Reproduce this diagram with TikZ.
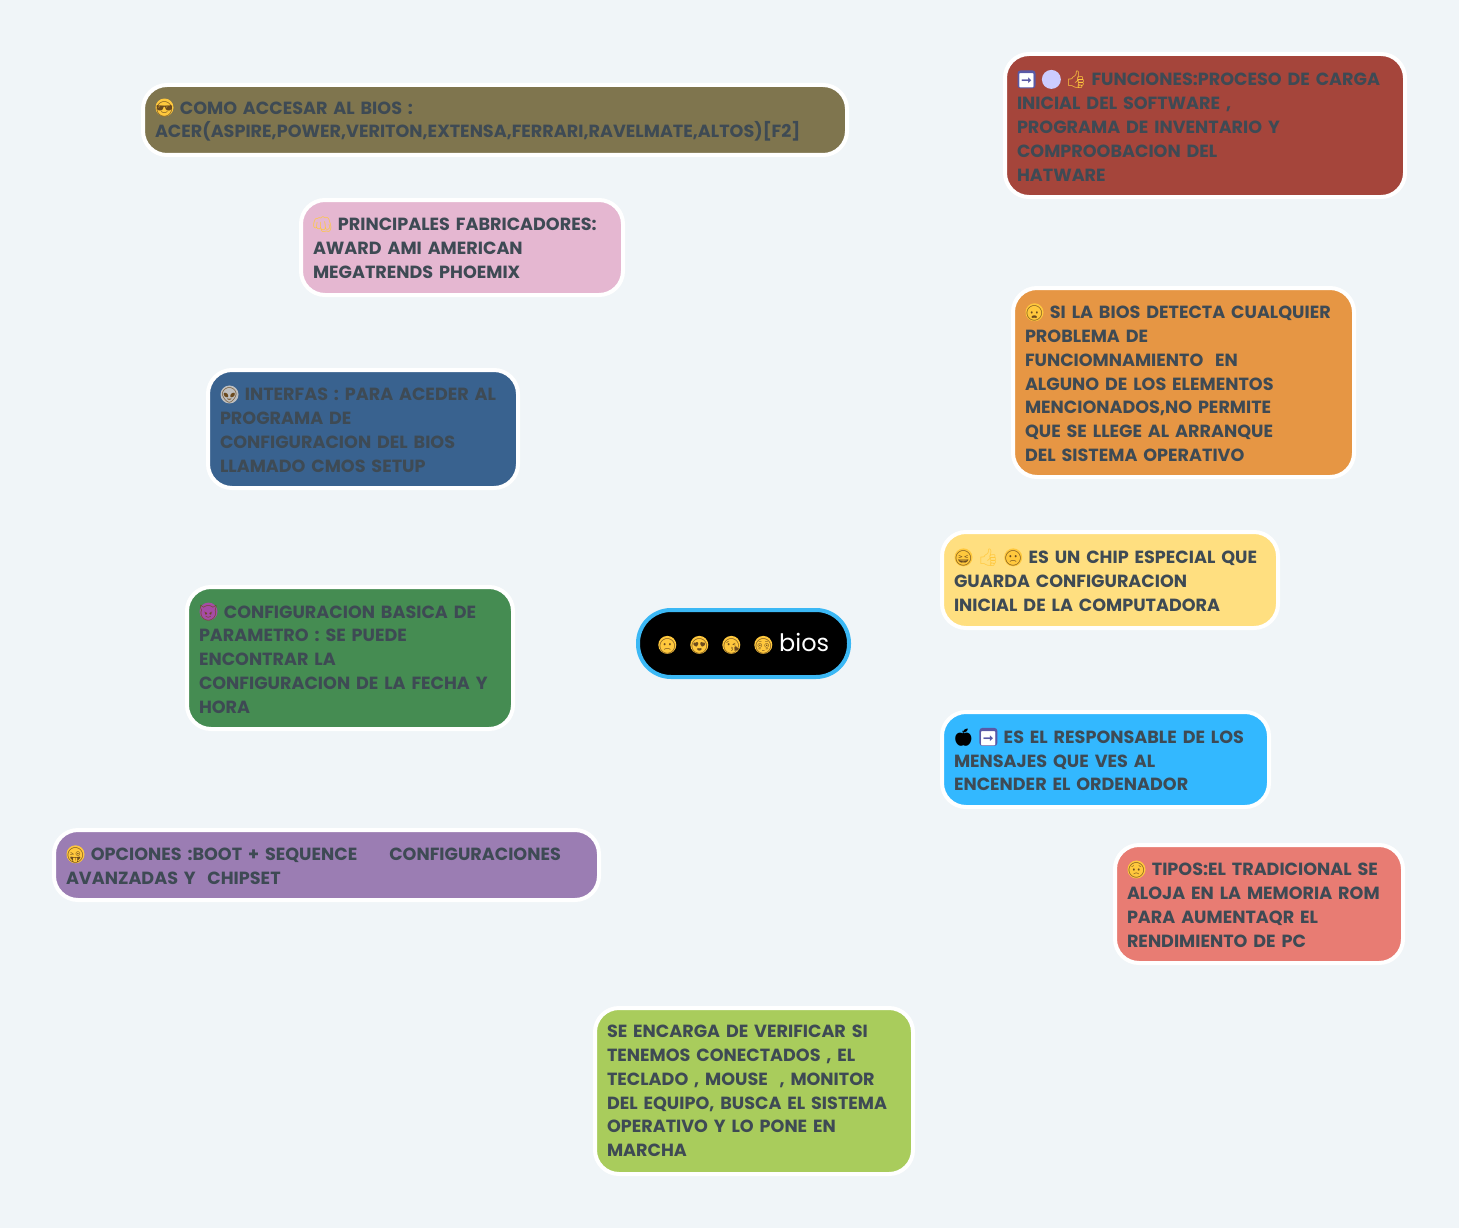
\documentclass[tikz,border=0pt]{standalone}
\usepackage{fontspec}
\usepackage{xcolor}
\setmainfont{Poppins}
\newfontfamily\emofont{Noto Emoji}
\usetikzlibrary{backgrounds}
\definecolor{pagebg}{HTML}{F0F5F8}
\definecolor{inktext}{HTML}{3E4A54}
\definecolor{branchline}{HTML}{D0D7DB}
\definecolor{faceamber}{HTML}{FFC83D}
\definecolor{faceline}{HTML}{6B4A1E}
\definecolor{rootrim}{HTML}{3BB8F5}
\definecolor{acercol}{HTML}{7F754E}
\definecolor{pinkcol}{HTML}{E5B7D1}
\definecolor{slatecol}{HTML}{39628F}
\definecolor{greencol}{HTML}{458C52}
\definecolor{purplecol}{HTML}{9B7DB3}
\definecolor{limecol}{HTML}{A9CC5C}
\definecolor{redcol}{HTML}{A5453B}
\definecolor{orangecol}{HTML}{E69644}
\definecolor{yellowcol}{HTML}{FFDF80}
\definecolor{bluecol}{HTML}{33B8FF}
\definecolor{salmoncol}{HTML}{E87C73}
\newcommand{\facemoji}[2][faceamber]{\makebox[19pt]{\tikz[baseline=-6.5pt]\fill[#1] (0,0) circle (9pt);\hspace{-18pt}\makebox[18pt]{\emofont\fontsize{15}{15}\selectfont\color{faceline}#2}}}
\newcommand{\plainmoji}[2]{\makebox[19pt]{\emofont\fontsize{17}{17}\selectfont\color{#1}#2}}
\newcommand{\arrowmoji}{\makebox[19pt]{\tikz[baseline=-6.5pt]\fill[blue!30!gray,rounded corners=3pt] (-9pt,-9pt) rectangle (9pt,9pt);\hspace{-18pt}\makebox[18pt]{\emofont\fontsize{14}{14}\selectfont\color{white}➡}}}
\newcommand{\discmoji}{\makebox[19pt]{\tikz[baseline=-6.5pt]\fill[blue!20!white] (0,0) circle (9.5pt);}}
\tikzset{
    branch/.style={draw=branchline, line width=1.6pt},
    topic/.style={              % One coloured box with its white rim
        draw=white, line width=4pt, rounded corners=24pt,
        outer sep=5.5pt, inner xsep=0pt, inner ysep=0pt,
        align=left, anchor=center,
        text=inktext, font=\fontsize{17.6}{23.8}\selectfont\bfseries},
    rootnode/.style={
        draw=rootrim, fill=black, line width=4pt, rounded corners=33pt,
        minimum width=211pt, minimum height=67pt,
        text=white, font=\fontsize{24}{24}\selectfont}}
\begin{document}
\begin{tikzpicture}[x=1pt,y=-1pt]
    \useasboundingbox[fill=pagebg] (0,0) rectangle (1459,1228);

    \node[rootnode] (bios) at (743.5,643.5) {\facemoji{🙁}\hspace{13pt}\facemoji{😍}\hspace{13pt}\facemoji{😘}\hspace{13pt}\facemoji{😳} bios};

    \node[topic, fill=acercol, minimum width=704pt, minimum height=70pt, text width=680pt] (acer) at (495,120) {\facemoji{😎} COMO ACCESAR AL BIOS :\\ACER(ASPIRE,POWER,VERITON,EXTENSA,FERRARI,RAVELMATE,ALTOS)[F2]};
    \node[topic, fill=pinkcol, minimum width=322pt, minimum height=95pt, text width=298pt] (makers) at (462,247.5) {\plainmoji{faceamber}{👊} PRINCIPALES FABRICADORES:\\AWARD AMI AMERICAN\\MEGATRENDS PHOEMIX};
    \node[topic, fill=slatecol, minimum width=310pt, minimum height=118pt, text width=286pt] (interfas) at (363,429) {\facemoji[gray!50!white]{👽} INTERFAS : PARA ACEDER AL\\PROGRAMA DE\\CONFIGURACION DEL BIOS\\LLAMADO CMOS SETUP};
    \node[topic, fill=greencol, minimum width=326pt, minimum height=142pt, text width=302pt] (basica) at (350,658) {\facemoji[violet!70!white]{😈} CONFIGURACION BASICA DE\\PARAMETRO : SE PUEDE\\ENCONTRAR LA\\CONFIGURACION DE LA FECHA Y\\HORA};
    \node[topic, fill=purplecol, minimum width=545pt, minimum height=70pt, text width=521pt] (opciones) at (326.5,865) {\facemoji{😜} OPCIONES :BOOT + SEQUENCE\hspace{32pt}CONFIGURACIONES\\AVANZADAS Y\ \ CHIPSET};
    \node[topic, fill=limecol, minimum width=318pt, minimum height=166pt, text width=294pt] (verificar) at (754,1091) {SE ENCARGA DE VERIFICAR SI\\TENEMOS CONECTADOS , EL\\TECLADO , MOUSE\ \ , MONITOR\\DEL EQUIPO, BUSCA EL SISTEMA\\OPERATIVO Y LO PONE EN\\MARCHA};
    \node[topic, fill=redcol, minimum width=400pt, minimum height=143pt, text width=376pt] (funciones) at (1205,125.5) {\arrowmoji\ \discmoji\ \plainmoji{faceamber}{👍} FUNCIONES:PROCESO DE CARGA\\INICIAL DEL SOFTWARE ,\\PROGRAMA DE INVENTARIO Y\\COMPROOBACION DEL\\HATWARE};
    \node[topic, fill=orangecol, minimum width=341pt, minimum height=189pt, text width=317pt] (detecta) at (1183.5,382.5) {\facemoji{😦} SI LA BIOS DETECTA CUALQUIER\\PROBLEMA DE\\FUNCIOMNAMIENTO\ \ EN\\ALGUNO DE LOS ELEMENTOS\\MENCIONADOS,NO PERMITE\\QUE SE LLEGE AL ARRANQUE\\DEL SISTEMA OPERATIVO};
    \node[topic, fill=yellowcol, minimum width=336pt, minimum height=96pt, text width=312pt] (chip) at (1110,580) {\facemoji{😆}\ \plainmoji{faceamber}{👍}\ \facemoji{🙁} ES UN CHIP ESPECIAL QUE\\GUARDA CONFIGURACION\\INICIAL DE LA COMPUTADORA};
    \node[topic, fill=bluecol, minimum width=327pt, minimum height=95pt, text width=303pt] (mensajes) at (1105.5,759.5) {\plainmoji{black}{🍎}\ \arrowmoji\ ES EL RESPONSABLE DE LOS\\MENSAJES QUE VES AL\\ENCENDER EL ORDENADOR};
    \node[topic, fill=salmoncol, minimum width=288pt, minimum height=118pt, text width=264pt] (tipos) at (1259,904) {\facemoji{😟} TIPOS:EL TRADICIONAL SE\\ALOJA EN LA MEMORIA ROM\\PARA AUMENTAQR EL\\RENDIMIENTO DE PC};

    \begin{scope}[on background layer]
        \fill[pagebg] (0,0) rectangle (1459,1228);
        \draw[branch] ([xshift=7pt]bios.north) .. controls (800,450) and (870,280) .. (870,200) .. controls (870,172) and (860,160) .. (835,160) -- (acer.south west);
        \draw[branch] ([xshift=-5pt]bios.north) .. controls (715,450) and (700,301) .. (620,301) -- (makers.south west);
        \draw[branch] ([xshift=-15pt]bios.north) .. controls (680,540) and (620,494) .. (515,494) -- (interfas.south west);
        \draw[branch] ([xshift=-35pt]bios.south) .. controls (660,710) and (600,735) .. (515,735) -- (basica.south west);
        \draw[branch] ([xshift=-5pt]bios.south) .. controls (720,800) and (680,906) .. (600,906) -- (opciones.south west);
        \draw[branch] ([xshift=14pt]bios.south) .. controls (850,850) and (940,1040) .. (948,1140) .. controls (950,1165) and (940,1180) .. (915,1180) -- (verificar.south west);
        \draw[branch] ([xshift=9pt]bios.north) .. controls (790,380) and (880,203) .. (1005,203) -- (funciones.south east);
        \draw[branch] ([xshift=22pt]bios.north) .. controls (810,530) and (890,483) .. (1015,483) -- (detecta.south east);
        \draw[branch] (bios.east) .. controls (880,635) and (900,634) .. (945,634) -- (chip.south east);
        \draw[branch] ([xshift=17pt]bios.south) .. controls (800,750) and (850,813) .. (945,813) -- (mensajes.south east);
        \draw[branch] ([xshift=17pt]bios.south) .. controls (830,820) and (950,968) .. (1115,968) -- (tipos.south east);
    \end{scope}
\end{tikzpicture}
\end{document}
